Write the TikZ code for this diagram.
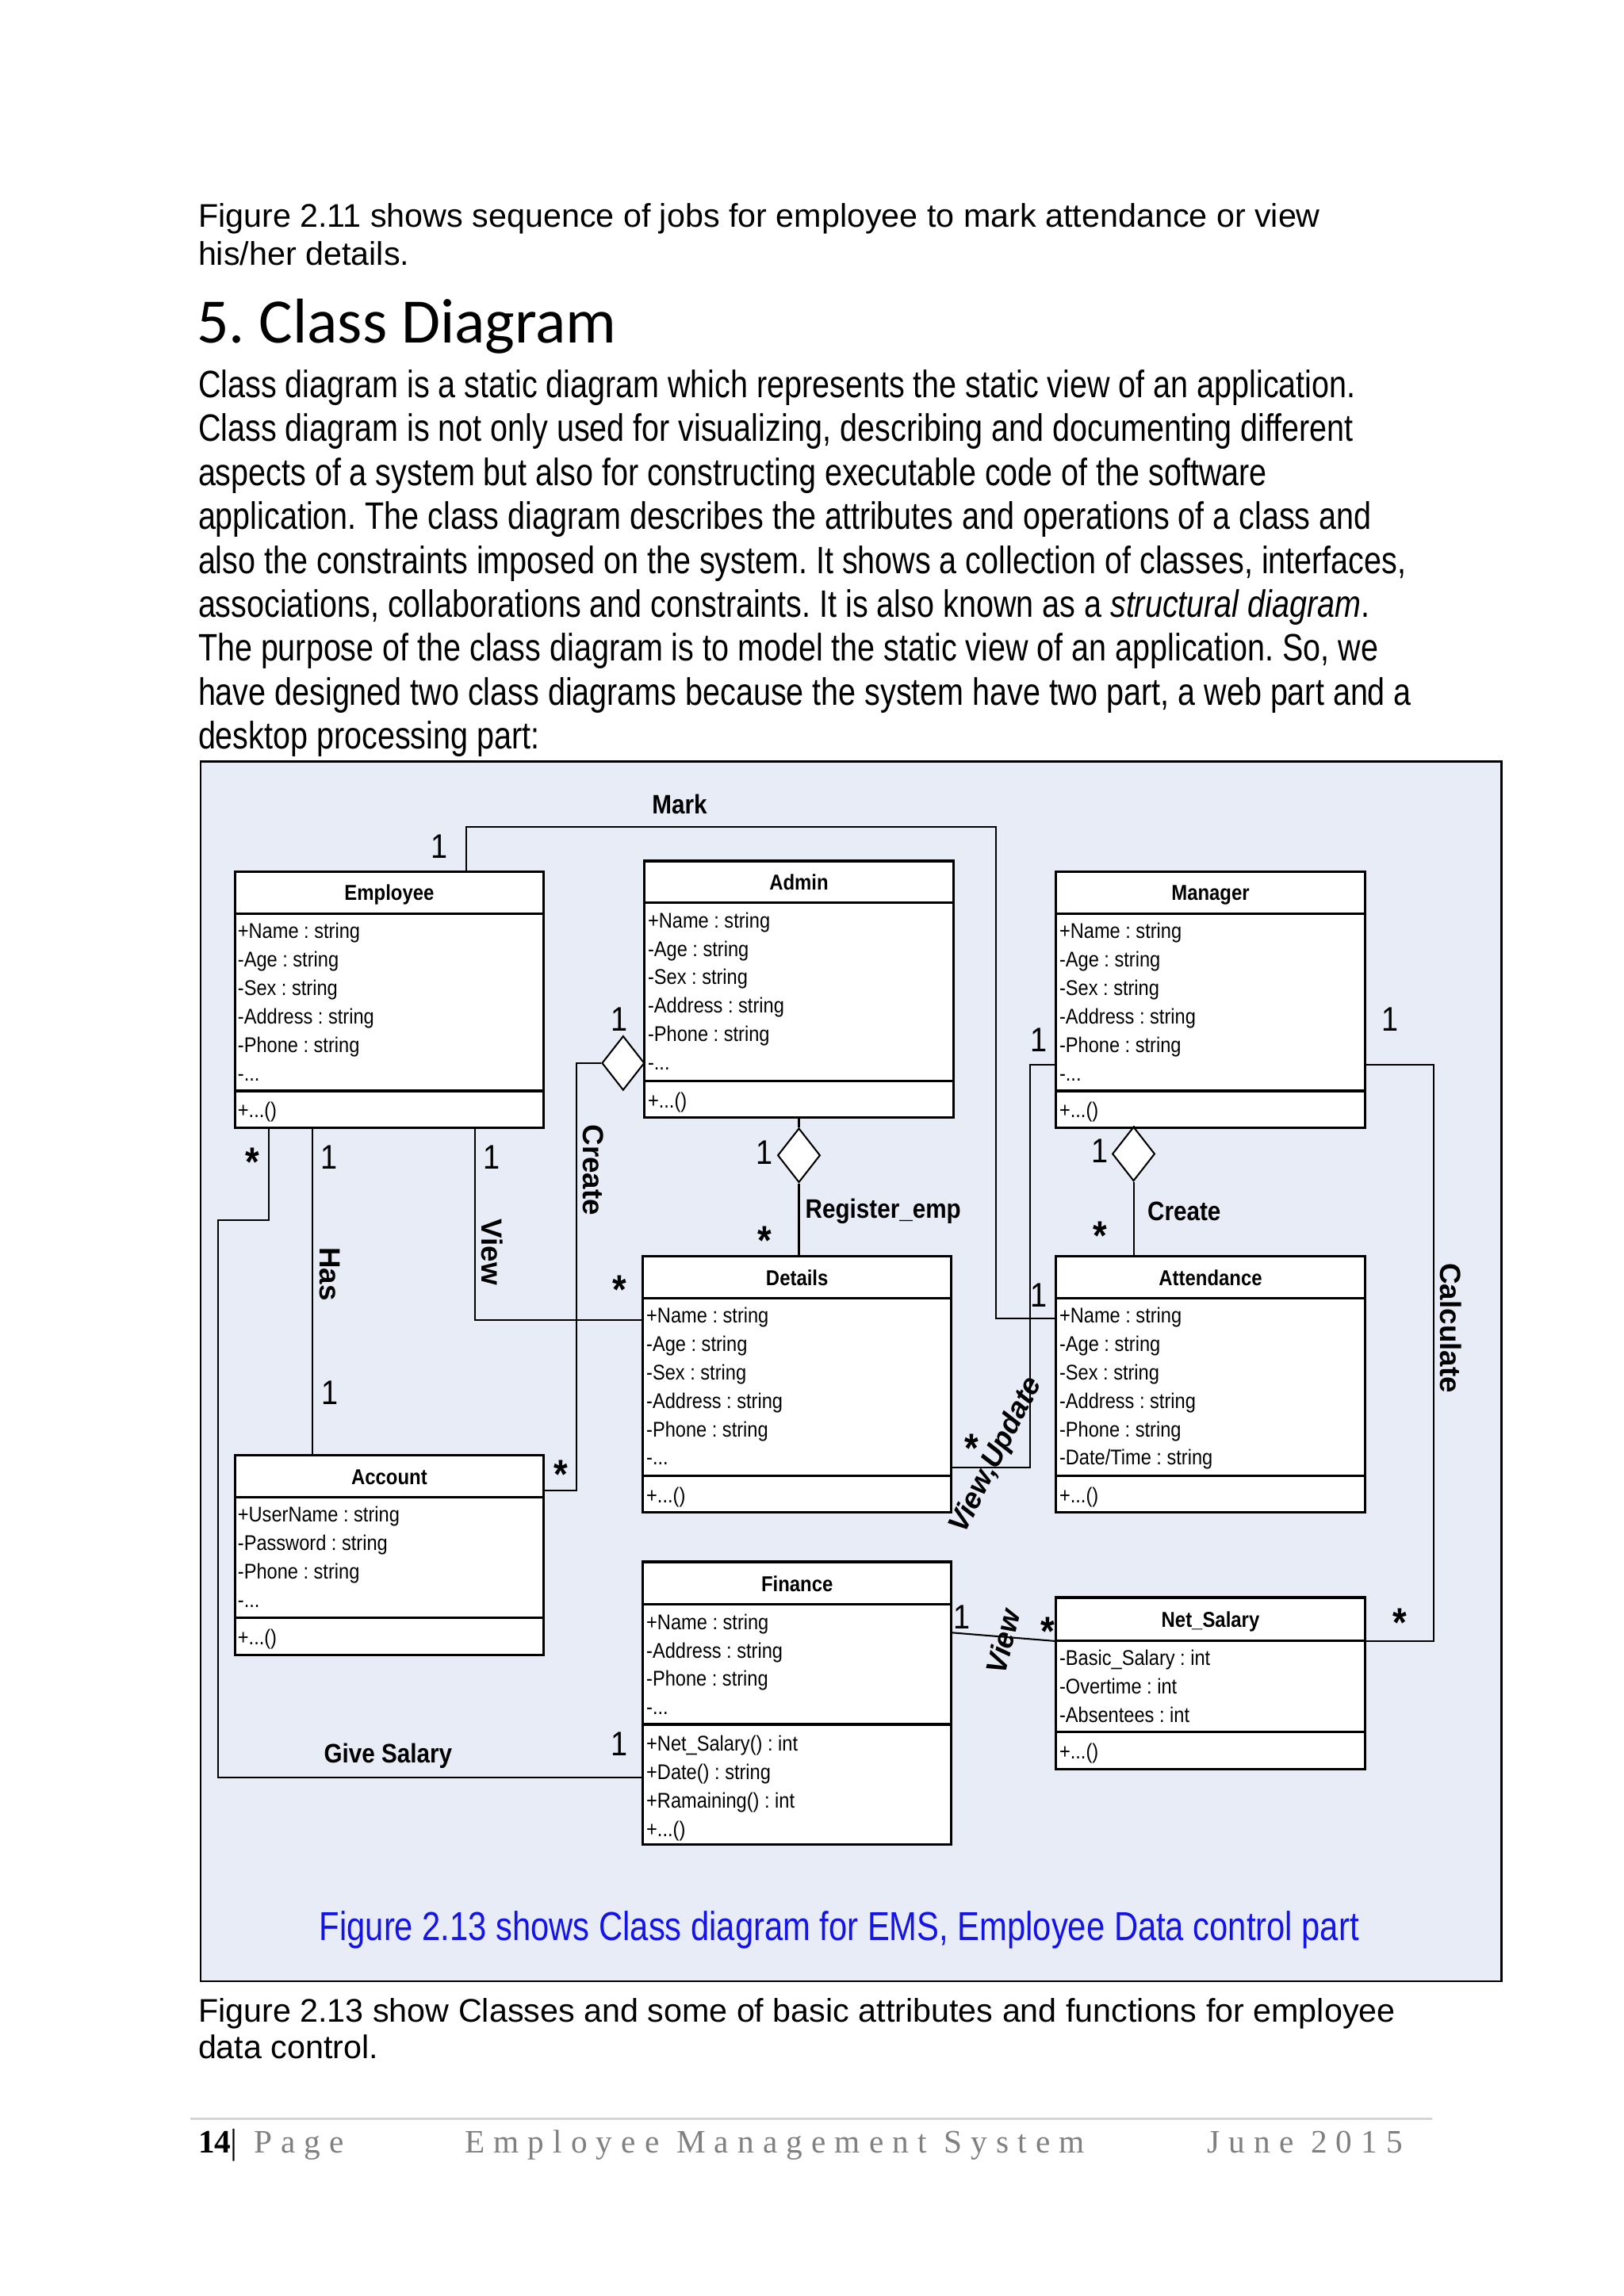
\documentclass[tikz,border=0pt]{standalone}
\usepackage{fontspec}
\setmainfont{Liberation Sans}
\newfontfamily\narrowf[FakeStretch=0.82]{Liberation Sans}
\newfontfamily\diagf[FakeStretch=0.88]{Liberation Sans}
\newfontfamily\headf{Carlito}
\newfontfamily\footf[LetterSpace=27]{Liberation Serif}
\newfontfamily\footnum{Liberation Serif}
\usetikzlibrary{shapes.geometric,fit}
\definecolor{framebg}{RGB}{232,236,247}
\definecolor{capblue}{RGB}{20,20,230}
\definecolor{footgray}{RGB}{128,128,128}
\definecolor{footline}{RGB}{212,212,212}
\frenchspacing
\newcommand\tdots{.\kern0pt.\kern0pt.}
\tikzset{
  cls/.style={draw, line width=0.9pt, fill=white, inner sep=0pt},
  clsline/.style={line width=0.9pt},
  conn/.style={line width=0.6pt},
  ttl/.style={font=\diagf\bfseries\fontsize{7.9}{9}\selectfont, inner sep=0pt, anchor=base},
  row/.style={font=\diagf\fontsize{7.8}{9}\selectfont, anchor=base west, inner sep=0pt},
  mult/.style={font=\diagf\fontsize{12.5}{14}\selectfont, inner sep=0pt},
  star/.style={font=\diagf\bfseries\fontsize{15}{16}\selectfont, inner sep=0pt, anchor=north},
  lbl/.style={font=\diagf\bfseries\fontsize{9.8}{12}\selectfont, inner sep=0pt},
  rlbl/.style={font=\bfseries\fontsize{10.7}{12}\selectfont, inner sep=0pt},
  ilbl/.style={font=\bfseries\itshape\fontsize{10.6}{12}\selectfont, inner sep=0pt},
  agg/.style={draw, shape=diamond, fill=white, line width=0.6pt, minimum width=15.6pt, minimum height=19.9pt, inner sep=0pt},
  para/.style={font=\fontsize{12}{14}\selectfont, anchor=base west, inner sep=0pt},
  body/.style={font=\narrowf\fontsize{14}{16}\selectfont, anchor=base west, inner sep=0pt},
  foot/.style={font=\footf\fontsize{12}{14}\selectfont, text=footgray, anchor=base west, inner sep=0pt}
}
\newcommand\umlclass[8]{%
  \node[cls, fit={(#2,#3) (#4,#7)}] (#1) {};
  \draw[clsline] (#2,#5) -- (#4,#5) (#2,#6) -- (#4,#6);
  \node[ttl] (#1-t) at ({(#2+#4)/2},{(#3+#5)/2+5.5}) {#8};
}
\newcommand\umlrows[5]{%
  \foreach \t [count=\i] in {#5} {\node[row] (#1-\i) at (#2,{#3+(\i-1)*#4}) {\t};}
}
\begin{document}
\begin{tikzpicture}[x=0.5369pt,y=-0.5369pt]
\path[use as bounding box, fill=white] (0,0) rectangle (1108.8,1568);

% ---------- text above ----------
\node[para] (t1) at (135,155) {Figure 2.11 shows sequence of jobs for employee to mark attendance or view};
\node[para] (t2) at (135,181) {his/her details.};
\node[font=\headf\fontsize{23.2}{28}\selectfont, anchor=base west, inner sep=0pt] (hd) at (134,234) {5. Class Diagram};
\node[body] (b1) at (135,271.5) {Class diagram is a static diagram which represents the static view of an application.};
\node[body] (b2) at (135,301.5) {Class diagram is not only used for visualizing, describing and documenting different};
\node[body] (b3) at (135,331.5) {aspects of a system but also for constructing executable code of the software};
\node[body] (b4) at (135,361.5) {application. The class diagram describes the attributes and operations of a class and};
\node[body] (b5) at (135,391.5) {also the constraints imposed on the system. It shows a collection of classes, interfaces,};
\node[body] (b6) at (135,421.5) {associations, collaborations and constraints. It is also known as a \textit{structural diagram}.};
\node[body] (b7) at (135,451.5) {The purpose of the class diagram is to model the static view of an application. So, we};
\node[body] (b8) at (135,481.5) {have designed two class diagrams because the system have two part, a web part and a};
\node[body] (b9) at (135,511.5) {desktop processing part:};

% ---------- frame ----------
\node[draw, fill=framebg, line width=0.8pt, inner sep=0pt, fit={(137,520) (1025,1353)}] (frame) {};

% ---------- class boxes ----------
\umlclass{emp}{160.3}{595.2}{371.3}{623.9}{745}{770.3}{Employee}
\umlclass{adm}{440}{588}{651}{616.5}{738}{763}{Admin}
\umlclass{mgr}{721}{595.2}{932}{623.9}{745}{770.3}{Manager}
\umlclass{det}{439}{858}{649.5}{886.5}{1008}{1033}{Details}
\umlclass{att}{721}{858}{932}{886.5}{1008}{1033}{Attendance}
\umlclass{acc}{160.3}{994}{371.3}{1022.5}{1105}{1130}{Account}
\umlclass{fin}{439}{1066.6}{649.5}{1095.8}{1177.6}{1259.4}{Finance}
\umlclass{net}{721}{1091}{932}{1120.7}{1182.6}{1208.3}{Net\_Salary}

% ---------- connectors ----------
% Mark
\draw[conn] (318.5,0 |- emp.north) -- (318.5,564.5) -- (680,564.5) -- (680,900.5) -- (att.west |- 0,900.5);
% Has
\draw[conn] (213.3,0 |- emp.south) -- (213.3,0 |- acc.north);
% View (Employee - Details)
\draw[conn] (324.5,0 |- emp.south) -- (324.5,901.5) -- (det.west |- 0,901.5);
% Give Salary
\draw[conn] (183.7,0 |- emp.south) -- (183.7,833.5) -- (149,833.5) -- (149,1214) -- (fin.west |- 0,1214);
% View,Update
\draw[conn] (mgr.west |- 0,727) -- (703.5,727) -- (703.5,1002.2) -- (det.east |- 0,1002.2);
% View (Finance - Net_Salary)
\draw[conn] (fin.east |- 0,1115) -- (net.west |- 0,1120.7);
% Calculate
\draw[conn] (mgr.east |- 0,727) -- (979,727) -- (979,1120.7) -- (net.east |- 0,1120.7);

% aggregation diamonds
\node[agg] (d1) at (425.5,726) {};
\node[agg] (d2) at (545.5,789) {};
\node[agg] (d3) at (774,788) {};
% Create (Admin - Account)
\draw[conn] (d1.west) -- (393.5,726) -- (393.5,1018) -- (acc.east |- 0,1018);
% Register_emp (Admin - Details)
\draw[conn] (adm.south -| d2.north) -- (d2.north);
\draw[conn] (d2.south) -- (det.north -| d2.south);
% Create (Manager - Attendance)
\draw[conn] (mgr.south -| d3.north) -- (d3.north);
\draw[conn] (d3.south) -- (att.north -| d3.south);

% ---------- class contents ----------
\umlrows{emp-a}{162}{641}{19.4}{+Name : string,-Age : string,-Sex : string,-Address : string,-Phone : string,-\tdots}
\umlrows{emp-o}{162}{763.4}{19.4}{+\tdots()}
\umlrows{adm-a}{442}{633.6}{19.4}{+Name : string,-Age : string,-Sex : string,-Address : string,-Phone : string,-\tdots}
\umlrows{adm-o}{442}{756.4}{19.4}{+\tdots()}
\umlrows{mgr-a}{723}{641}{19.4}{+Name : string,-Age : string,-Sex : string,-Address : string,-Phone : string,-\tdots}
\umlrows{mgr-o}{723}{763.4}{19.4}{+\tdots()}
\umlrows{det-a}{441}{903.5}{19.4}{+Name : string,-Age : string,-Sex : string,-Address : string,-Phone : string,-\tdots}
\umlrows{det-o}{441}{1026.4}{19.4}{+\tdots()}
\umlrows{att-a}{723}{903.5}{19.4}{+Name : string,-Age : string,-Sex : string,-Address : string,-Phone : string,-Date/Time : string}
\umlrows{att-o}{723}{1026.4}{19.4}{+\tdots()}
\umlrows{acc-a}{162}{1039.5}{19.4}{+UserName : string,-Password : string,-Phone : string,-\tdots}
\umlrows{acc-o}{162}{1123.4}{19.4}{+\tdots()}
\umlrows{fin-a}{441}{1112.8}{19.4}{+Name : string,-Address : string,-Phone : string,-\tdots}
\umlrows{fin-o}{441}{1196}{19.4}{+Net\_Salary() : int,+Date() : string,+Ramaining() : int,+\tdots()}
\umlrows{net-a}{723}{1137.5}{19.4}{-Basic\_Salary : int,-Overtime : int,-Absentees : int}
\umlrows{net-o}{723}{1201}{19.4}{+\tdots()}

% ---------- labels ----------
\node[lbl] (l-mark) at (464,549) {Mark};
\node[mult] (m-mark1) at (300,578) {1};
\node[mult] (m-mark2) at (709.5,884.5) {1};
\node[mult] (m-cr1) at (423,696) {1};
\node[star] (s-cr2) at (383,997) {*};
\node[rlbl, rotate=-90] (l-create1) at (405,799) {Create};
\node[mult] (m-reg1) at (522,787) {1};
\node[star] (s-reg2) at (522,837) {*};
\node[lbl] (l-reg) at (603,827) {Register\_emp};
\node[mult] (m-cr3) at (751,786) {1};
\node[star] (s-cr4) at (751,834) {*};
\node[lbl] (l-create2) at (808.5,827) {Create};
\node[star] (s-give1) at (172.3,783.6) {*};
\node[mult] (m-has1) at (224.7,790.5) {1};
\node[mult] (m-view1) at (335.7,790.5) {1};
\node[rlbl, rotate=-90] (l-has) at (225,870) {Has};
\node[mult] (m-has2) at (225,951) {1};
\node[rlbl, rotate=-90] (l-view) at (336,855) {View};
\node[star] (s-view2) at (423,871) {*};
\node[mult] (m-give2) at (423,1191) {1};
\node[lbl] (l-give) at (265,1199) {Give Salary};
\node[mult] (m-vu1) at (709.5,710) {1};
\node[star] (s-vu2) at (663.2,979) {*};
\node[ilbl, rotate=63] (l-vu) at (680.5,994) {View,Update};
\node[mult] (m-fv1) at (657,1104.5) {1};
\node[star] (s-fv2) at (715.6,1104) {*};
\node[ilbl, rotate=76] (l-fv) at (685,1121) {View};
\node[mult] (m-calc1) at (949.3,696) {1};
\node[star] (s-calc2) at (955.7,1098.4) {*};
\node[rlbl, rotate=-90] (l-calc) at (990.5,907) {Calculate};

% caption
\node[font=\narrowf\fontsize{14.8}{17}\selectfont, text=capblue, anchor=base, inner sep=0pt] (cap) at (573,1325) {Figure 2.13 shows Class diagram for EMS, Employee Data control part};

% ---------- text below ----------
\node[para] (p1) at (135,1381) {Figure 2.13 show Classes and some of basic attributes and functions for employee};
\node[para] (p2) at (135,1406) {data control.};

% ---------- footer ----------
\draw[footline, line width=0.9pt] (130,1447) coordinate (fl1) -- (978,1447) coordinate (fl2);
\node[font=\footnum\bfseries\fontsize{12}{14}\selectfont, anchor=base west, inner sep=0pt] (pg) at (135,1470) {14};
\node[font=\footnum\fontsize{13}{14}\selectfont, anchor=base west, inner sep=0pt] (bar) at (157,1471) {|};
\node[foot] (pgw) at (173,1470) {Page};
\node[foot] (ems) at (317,1470) {Employee Management System};
\node[foot] (date) at (824,1470) {June 2015};
\end{tikzpicture}
\end{document}
